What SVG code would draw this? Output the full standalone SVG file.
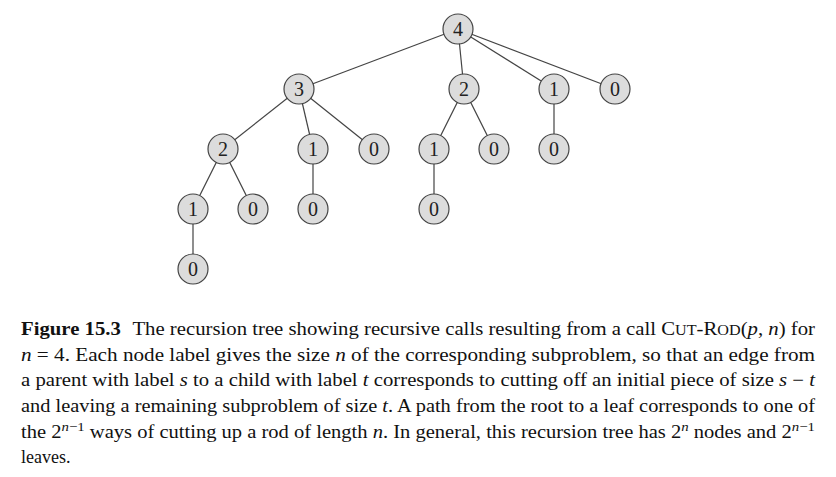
<svg xmlns="http://www.w3.org/2000/svg" width="836" height="477" viewBox="0 0 836 477">
<style>
.n circle{fill:#dcdcdc;stroke:#444;stroke-width:1.2}
.n text{font-family:"Liberation Serif","Times New Roman",serif;font-size:20px;text-anchor:middle;fill:#222}
#edges line{stroke:#444;stroke-width:1.2}
.cap{font-family:"Liberation Serif","Times New Roman",serif;font-size:18px;fill:#111}
</style>
<rect width="836" height="477" fill="#fff"/>
<g id="edges">
<line x1="458" y1="29" x2="299" y2="89"/><line x1="458" y1="29" x2="464" y2="89"/><line x1="458" y1="29" x2="554" y2="89"/><line x1="458" y1="29" x2="615" y2="89"/>
<line x1="299" y1="89" x2="223" y2="149"/><line x1="299" y1="89" x2="313" y2="149"/><line x1="299" y1="89" x2="374" y2="149"/>
<line x1="464" y1="89" x2="434" y2="149"/><line x1="464" y1="89" x2="494" y2="149"/><line x1="554" y1="89" x2="554" y2="149"/>
<line x1="223" y1="149" x2="193" y2="209"/><line x1="223" y1="149" x2="253" y2="209"/><line x1="313" y1="149" x2="313" y2="209"/><line x1="434" y1="149" x2="434" y2="209"/>
<line x1="193" y1="209" x2="193" y2="269"/>
</g>
<g id="n4" class="n"><circle cx="458" cy="29" r="15"/><text x="458" y="36">4</text></g>
<g id="n3" class="n"><circle cx="299" cy="89" r="15"/><text x="299" y="96">3</text></g>
<g id="n2a" class="n"><circle cx="464" cy="89" r="15"/><text x="464" y="96">2</text></g>
<g id="n1a" class="n"><circle cx="554" cy="89" r="15"/><text x="554" y="96">1</text></g>
<g id="n0a" class="n"><circle cx="615" cy="89" r="15"/><text x="615" y="96">0</text></g>
<g id="n2b" class="n"><circle cx="223" cy="149" r="15"/><text x="223" y="156">2</text></g>
<g id="n1b" class="n"><circle cx="313" cy="149" r="15"/><text x="313" y="156">1</text></g>
<g id="n0b" class="n"><circle cx="374" cy="149" r="15"/><text x="374" y="156">0</text></g>
<g id="n1c" class="n"><circle cx="434" cy="149" r="15"/><text x="434" y="156">1</text></g>
<g id="n0c" class="n"><circle cx="494" cy="149" r="15"/><text x="494" y="156">0</text></g>
<g id="n0d" class="n"><circle cx="554" cy="149" r="15"/><text x="554" y="156">0</text></g>
<g id="n1d" class="n"><circle cx="193" cy="209" r="15"/><text x="193" y="216">1</text></g>
<g id="n0e" class="n"><circle cx="253" cy="209" r="15"/><text x="253" y="216">0</text></g>
<g id="n0f" class="n"><circle cx="313" cy="209" r="15"/><text x="313" y="216">0</text></g>
<g id="n0g" class="n"><circle cx="434" cy="209" r="15"/><text x="434" y="216">0</text></g>
<g id="n0h" class="n"><circle cx="193" cy="269" r="15"/><text x="193" y="276">0</text></g>
<g class="cap">
<text x="21" y="335" textLength="794" lengthAdjust="spacingAndGlyphs"><tspan font-weight="bold">Figure 15.3</tspan><tspan dx="10">The recursion tree showing recursive calls resulting from a call C</tspan><tspan font-size="14">UT</tspan>-R<tspan font-size="14">OD</tspan>(<tspan font-style="italic">p</tspan>, <tspan font-style="italic">n</tspan>) for</text>
<text x="21" y="361" textLength="794" lengthAdjust="spacingAndGlyphs"><tspan font-style="italic">n</tspan> = 4. Each node label gives the size <tspan font-style="italic">n</tspan> of the corresponding subproblem, so that an edge from</text>
<text x="21" y="386" textLength="794" lengthAdjust="spacingAndGlyphs">a parent with label <tspan font-style="italic">s</tspan> to a child with label <tspan font-style="italic">t</tspan> corresponds to cutting off an initial piece of size <tspan font-style="italic">s</tspan> − <tspan font-style="italic">t</tspan></text>
<text x="21" y="412" textLength="794" lengthAdjust="spacingAndGlyphs">and leaving a remaining subproblem of size <tspan font-style="italic">t</tspan>. A path from the root to a leaf corresponds to one of</text>
<text x="21" y="438" textLength="794" lengthAdjust="spacingAndGlyphs">the 2<tspan font-size="13" dy="-7"><tspan font-style="italic">n</tspan>−1</tspan><tspan dy="7"> ways of cutting up a rod of length </tspan><tspan font-style="italic">n</tspan>. In general, this recursion tree has 2<tspan font-size="13" dy="-7" font-style="italic">n</tspan><tspan dy="7"> nodes and 2</tspan><tspan font-size="13" dy="-7"><tspan font-style="italic">n</tspan>−1</tspan></text>
<text x="21" y="463">leaves.</text>
</g>
</svg>
